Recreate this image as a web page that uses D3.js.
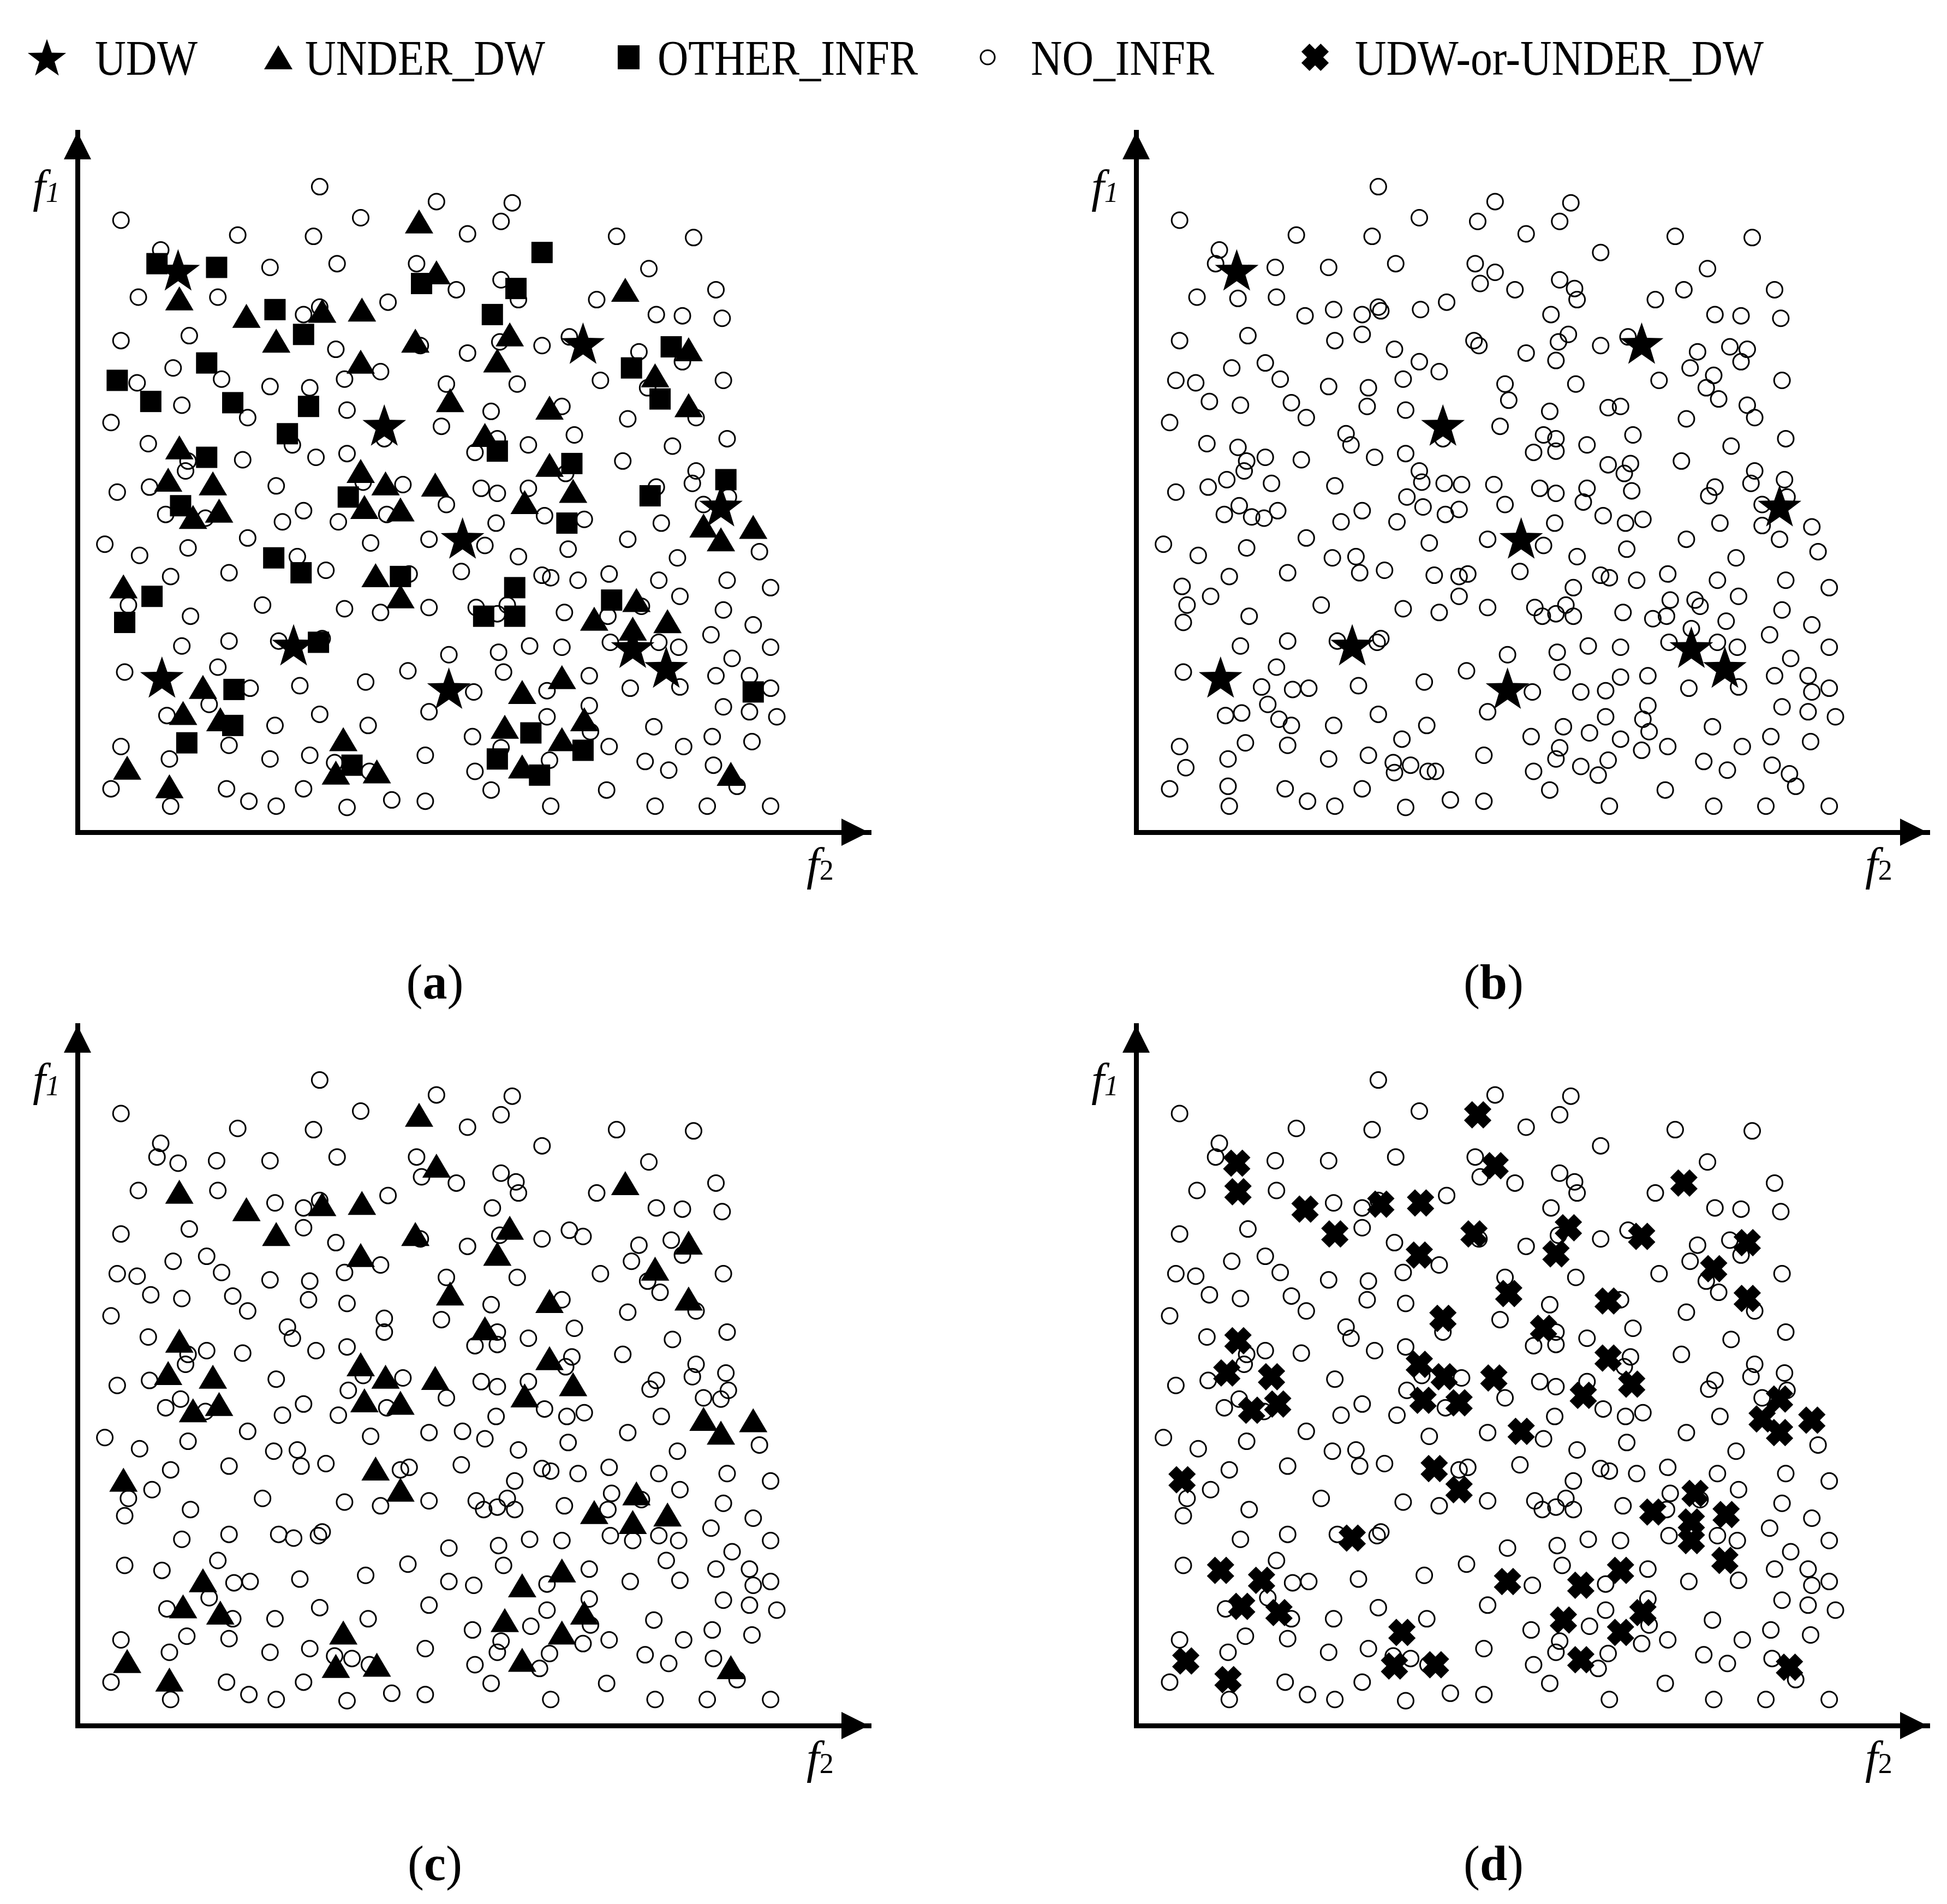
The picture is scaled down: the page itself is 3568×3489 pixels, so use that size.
<!doctype html>
<html>
<head>
<meta charset="UTF-8">
<title>f1 / f2 scatter panels</title>
<script src="https://d3js.org/d3.v7.min.js"></script>
<style>
  body { margin: 0; background: #fff; }
  text { font-family: "Liberation Serif", "Times New Roman", serif; fill: #000; }
</style>
</head>
<body>
<script>
// classes and legend labels
var categories = ["UDW", "UNDER_DW", "OTHER_INFR", "NO_INFR", "UDW-or-UNDER_DW"];
var panelLabels = ["a", "b", "c", "d"];

// points, [f2, f1]
var udw = [[81,453],[247,328],[407,394],[174,151],[68,125],[518,263],[310,237],[447,149],[474,133],[299,116]];

var underDw = [
  [275,492],[82,430],[136,416],[197,420],[229,421],[160,396],[272,396],[228,379],[82,310],[73,284],[109,281],[228,291],[248,281],[288,280],
  [289,451],[441,437],[348,401],[338,380],[465,368],[492,389],[300,348],[380,342],[492,344],[328,320],[380,296],[399,275],
  [93,254],[114,259],[231,262],[260,260],[37,198],[240,207],[260,190],[101,117],[85,96],[115,91],[214,75],[40,52],[74,37],[208,48],[241,49],
  [360,266],[504,247],[544,246],[518,236],[450,187],[416,172],[447,164],[475,170],[390,125],[358,113],[344,85],[408,91],[390,75],[358,53],[526,47]
];

var otherInfr = [
  [64,458],[112,455],[277,442],[159,421],[182,401],[104,378],[32,364],[59,347],[125,346],[186,343],[169,321],[104,302],[218,270],
  [374,467],[353,438],[334,417],[478,391],[446,374],[469,349],[338,307],[398,297],[522,284],[461,271],
  [83,263],[158,221],[180,209],[60,190],[38,169],[260,206],[194,153],[126,115],[125,86],[88,72],[221,54],
  [394,249],[352,197],[327,174],[352,174],[430,187],[544,113],[365,80],[338,59],[407,66],[372,46]
];

var noInfr = [
  [195,520],[35,493],[228,495],[129,481],[190,480],[67,469],[155,455],[209,458],[273,458],[49,431],
  [113,431],[250,427],[195,423],[182,417],[35,396],[90,400],[208,389],[276,392],[77,374],[116,365],
  [244,371],[215,365],[48,362],[155,359],[187,358],[84,344],[137,334],[217,340],[27,330],[173,312],
  [247,317],[57,313],[89,299],[87,291],[133,300],[192,302],[217,305],[230,282],[262,280],[32,274],
  [58,278],[160,279],
  [289,508],[350,507],[341,492],[314,482],[434,480],[496,479],[460,454],[341,445],[305,437],[355,429],
  [418,429],[514,437],[466,417],[487,416],[519,414],[396,399],[340,395],[374,392],[314,386],[452,387],
  [487,379],[297,361],[354,361],[421,364],[520,364],[459,358],[390,343],[333,339],[443,333],[498,334],
  [293,327],[338,317],[400,320],[523,317],[320,306],[363,312],[479,311],[439,299],[393,289],[498,291],
  [495,281],[325,277],[338,273],[363,277],[466,278],[524,270],
  [71,256],[103,253],[182,259],[165,250],[210,250],[249,256],[22,232],[50,223],[89,229],[137,237],
  [236,233],[283,236],[177,222],[75,206],[122,209],[200,211],[267,208],[41,183],[91,174],[149,183],
  [215,180],[244,177],[283,181],[84,150],[122,154],[162,154],[197,156],[38,129],[113,133],[139,116],
  [179,118],[232,121],[266,130],[106,103],[195,95],[283,97],[72,94],[159,86],[234,86],[35,69],
  [74,59],[122,70],[155,59],[187,62],[280,62],[207,56],[235,49],[27,35],[75,21],[120,35],
  [138,25],[160,21],[182,35],[217,20],[253,26],[280,25],
  [297,264],[504,264],[376,255],[408,252],[337,249],[470,249],[328,231],[355,222],[395,228],[443,236],
  [483,221],[549,226],[309,210],[374,207],[381,205],[403,203],[428,208],[468,203],[523,203],[558,197],
  [485,190],[321,181],[338,176],[346,183],[392,177],[454,182],[427,174],[520,179],[544,167],[510,159],
  [429,153],[468,153],[484,149],[558,149],[527,140],[299,143],[339,145],[364,150],[390,149],[343,129],
  [412,126],[445,116],[485,117],[514,126],[541,126],[558,116],[319,113],[378,114],[412,102],[378,93],
  [520,101],[541,97],[563,93],[464,85],[318,77],[413,81],[341,68],[428,69],[488,69],[511,77],
  [543,73],[380,58],[457,57],[476,50],[512,54],[320,49],[531,37],[333,34],[426,34],[381,21],
  [465,21],[507,21],[558,21]
];

var W = 3568, H = 3489;
var svg = d3.select("body").append("svg").attr("width", W).attr("height", H);

// which class gets which mark in each panel
var panels = [
  {label: "a", col: 0, row: 0, open: noInfr, square: otherInfr, tri: underDw, star: udw, cross: []},
  {label: "b", col: 1, row: 0, open: noInfr.concat(otherInfr, underDw), square: [], tri: [], star: udw, cross: []},
  {label: "c", col: 0, row: 1, open: noInfr.concat(otherInfr, udw), square: [], tri: underDw, star: [], cross: []},
  {label: "d", col: 1, row: 1, open: noInfr.concat(otherInfr), square: [], tri: [], star: [], cross: udw.concat(underDw)}
];

var line = d3.line();

function starPts(cx, cy, k) {
  var R = 42 * k, pts = [];
  for (var i = 0; i < 10; i++) {
    var a = (-90 + 36 * i) * Math.PI / 180;
    var r = i % 2 ? R * 0.4 : R;
    pts.push([cx + r * Math.cos(a), cy + 0.095 * R + r * Math.sin(a)]);
  }
  return line(pts) + "Z";
}
function triPts(cx, cy) {
  return line([[cx, cy - 22], [cx + 26, cy + 22], [cx - 26, cy + 22]]) + "Z";
}
function crossPts(cx, cy) {
  var a = 25, w = 10.5, s = Math.SQRT1_2;
  var base = [[-w,-a],[w,-a],[w,-w],[a,-w],[a,w],[w,w],[w,a],[-w,a],[-w,w],[-a,w],[-a,-w],[-w,-w]];
  return line(base.map(function(p) { return [cx + (p[0] - p[1]) * s, cy + (p[0] + p[1]) * s]; })) + "Z";
}

panels.forEach(function(p) {
  var ox = 142 + p.col * 1940, oy = 1525 + p.row * 1637;
  var x = d3.scaleLinear().domain([0, 637]).range([ox, ox + 1450]);
  var y = d3.scaleLinear().domain([0, 564]).range([oy, oy - 1283]);
  var g = svg.append("g");

  // axes without ticks, arrows at the ends
  g.append("g").attr("transform", "translate(0," + oy + ")")
    .call(d3.axisBottom(x).tickValues([]).tickSizeOuter(0));
  g.append("g").attr("transform", "translate(" + ox + ",0)")
    .call(d3.axisLeft(y).tickValues([]).tickSizeOuter(0));
  g.selectAll(".domain").attr("stroke", "#000").attr("stroke-width", 9).attr("stroke-linecap", "square");
  g.append("path").attr("d", line([[x(637), oy], [x(637) - 50, oy - 25], [x(637) - 50, oy + 25]]) + "Z");
  g.append("path").attr("d", line([[ox, y(564)], [ox - 25, y(564) + 50], [ox + 25, y(564) + 50]]) + "Z");

  var f1 = g.append("text").attr("x", ox - 82).attr("y", oy - 1155)
    .attr("font-size", 85).attr("font-style", "italic");
  f1.append("tspan").text("f");
  f1.append("tspan").attr("font-size", 52).text("1");
  var f2 = g.append("text").attr("x", ox + 1336).attr("y", oy + 87)
    .attr("font-size", 85);
  f2.append("tspan").attr("font-style", "italic").text("f");
  f2.append("tspan").attr("font-size", 52).text("2");

  // marks
  g.selectAll("circle.pt").data(p.open).enter().append("circle")
    .attr("class", "pt")
    .attr("cx", function(d) { return x(d[0]); })
    .attr("cy", function(d) { return y(d[1]); })
    .attr("r", 14.5).attr("fill", "none").attr("stroke", "#000").attr("stroke-width", 3);
  g.selectAll("rect.pt").data(p.square).enter().append("rect")
    .attr("class", "pt")
    .attr("x", function(d) { return x(d[0]) - 19.5; })
    .attr("y", function(d) { return y(d[1]) - 19.5; })
    .attr("width", 39).attr("height", 39).attr("fill", "#000");
  g.selectAll("path.tri").data(p.tri).enter().append("path")
    .attr("class", "tri")
    .attr("d", function(d) { return triPts(x(d[0]), y(d[1])); });
  g.selectAll("path.star").data(p.star).enter().append("path")
    .attr("class", "star")
    .attr("d", function(d) { return starPts(x(d[0]), y(d[1]), 1); });
  g.selectAll("path.cross").data(p.cross).enter().append("path")
    .attr("class", "cross")
    .attr("d", function(d) { return crossPts(x(d[0]), y(d[1])); });

  // caption
  var cap = svg.append("text").attr("x", 797 + p.col * 1940).attr("y", 1830 + p.row * 1615)
    .attr("font-size", 90).attr("text-anchor", "middle");
  cap.append("tspan").text("(");
  cap.append("tspan").attr("font-weight", "bold").text(p.label);
  cap.append("tspan").text(")");
});

// legend
var legY = 105;
var leg = svg.append("g");
leg.append("path").attr("d", starPts(86, legY, 0.88));
leg.append("path").attr("d", triPts(510, legY));
leg.append("rect").attr("x", 1132).attr("y", legY - 22).attr("width", 40).attr("height", 44);
leg.append("circle").attr("cx", 1810).attr("cy", legY).attr("r", 13)
  .attr("fill", "none").attr("stroke", "#000").attr("stroke-width", 3);
leg.append("path").attr("d", crossPts(2410, legY));

var legText = [
  {t: categories[0], x: 174, len: 188},
  {t: categories[1], x: 559, len: 440},
  {t: categories[2], x: 1205, len: 477},
  {t: categories[3], x: 1889, len: 336},
  {t: categories[4], x: 2483, len: 749}
];
leg.selectAll("text").data(legText).enter().append("text")
  .attr("x", function(d) { return d.x; })
  .attr("y", 137)
  .attr("font-size", 92)
  .attr("textLength", function(d) { return d.len; })
  .attr("lengthAdjust", "spacingAndGlyphs")
  .text(function(d) { return d.t; });
</script>
</body>
</html>
